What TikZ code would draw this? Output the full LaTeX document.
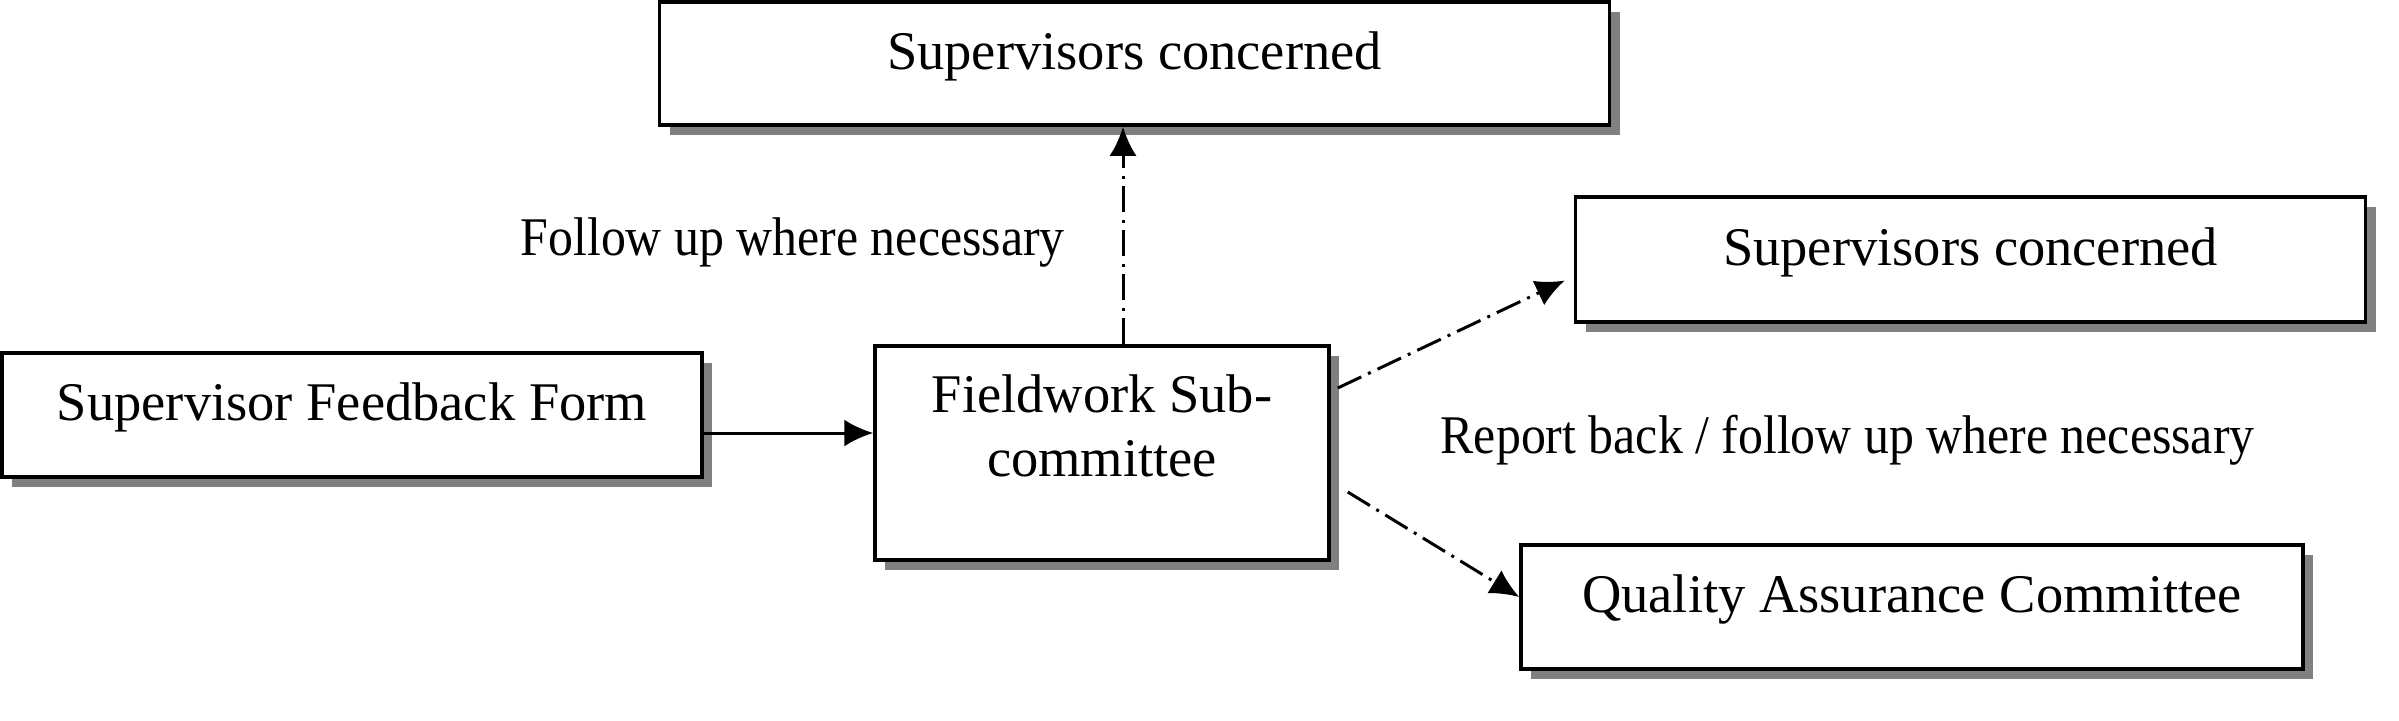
\documentclass[tikz,border=0pt]{standalone}
\usepackage{fontspec}
\setmainfont{Liberation Serif}
\newfontfamily\lblfont[FakeStretch=0.915]{Liberation Serif}
\usetikzlibrary{arrows.meta,shadows}
\begin{document}
\begin{tikzpicture}[x=0.1mm,y=-0.1mm,
  box/.style={draw, line width=1pt, fill=white, inner sep=0pt,
    drop shadow={shadow xshift=1mm, shadow yshift=-1mm, fill=gray, opacity=1},
    font=\fontsize{15.5}{18.1}\selectfont, text height=3.8mm, text depth=2.7mm},
  lbl/.style={font=\lblfont\fontsize{15.5}{18.1}\selectfont, inner sep=0pt, anchor=base west},
  solidarr/.style={line width=0.85pt, -{Latex[length=2.9mm,width=2.7mm]}},
  dd/.style={line width=0.85pt, dash pattern=on 2.6mm off 0.75mm on 0.3mm off 0.75mm,
    -{Latex[length=2.9mm,width=2.7mm]}}]
\useasboundingbox (0,0) rectangle (2399,720);

\node[box, minimum width=95mm, minimum height=12.3mm] (topsc) at (1134.5,63.5) {Supervisors concerned};
\node[box, minimum width=79mm, minimum height=12.5mm] (rsc) at (1970.5,259.5) {Supervisors concerned};
\node[box, minimum width=70mm, minimum height=12.4mm] (sff) at (352,415) {Supervisor Feedback Form};
\node[box, minimum width=45.4mm, minimum height=21.4mm, align=center,
      text height=8mm, text depth=3.3mm] (fsc) at (1102,453) {Fieldwork Sub-\\committee};
\node[box, minimum width=78.2mm, minimum height=12.4mm] (qac) at (1912,607) {Quality Assurance Committee};

\node[lbl] (l1) at (520,255) {Follow up where necessary};
\node[lbl] (l2) at (1440,453) {Report back / follow up where necessary};

\coordinate (hy) at (0,433);
\coordinate (vx) at (1123,0);
\draw[solidarr] (sff.east |- hy) -- (fsc.west |- hy);
\draw[dd] (fsc.north -| vx) -- (topsc.south -| vx);
\draw[dd] ([xshift=0.7mm,yshift=6.5mm]fsc.east) -- ([xshift=-0.9mm,yshift=-2.1mm]rsc.west);
\draw[dd] ([xshift=1.7mm,yshift=-3.9mm]fsc.east) -- ([yshift=1mm]qac.west);
\end{tikzpicture}
\end{document}
